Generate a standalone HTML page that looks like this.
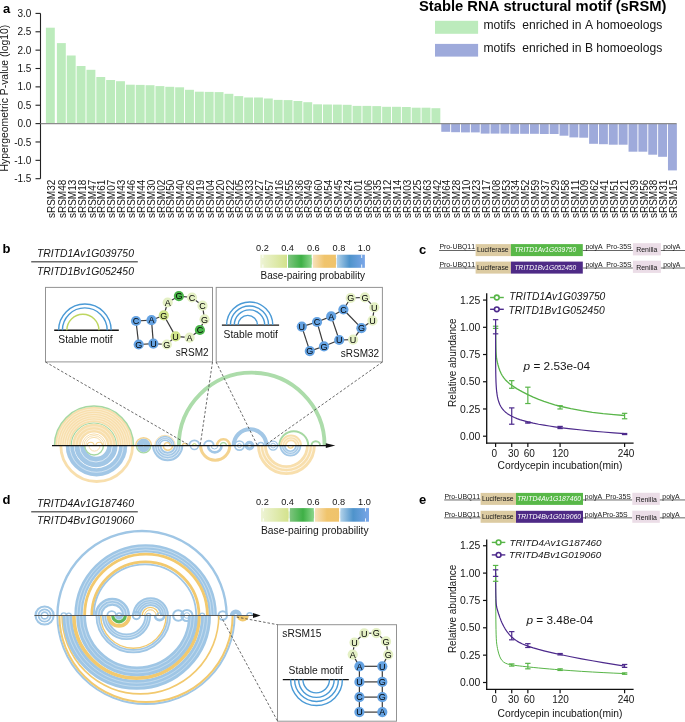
<!DOCTYPE html>
<html><head><meta charset="utf-8"><title>sRSM figure</title>
<style>
html,body{margin:0;padding:0;background:#fff;}
body{width:685px;height:722px;overflow:hidden;}
svg{display:block;will-change:transform;font-family:"Liberation Sans", sans-serif;font-kerning:none;}
</style></head>
<body>
<svg width="685" height="722" viewBox="0 0 685 722">
<rect width="685" height="722" fill="#fff"/>
<text x="3.00" y="12.70" font-size="13" text-anchor="start" font-weight="bold" font-style="normal" fill="#000" >a</text>
<line x1="40.50" y1="13.40" x2="40.50" y2="178.70" stroke="#222" stroke-width="1.1" />
<line x1="35.50" y1="13.41" x2="40.50" y2="13.41" stroke="#222" stroke-width="1.1" />
<text x="31.40" y="17.01" font-size="10" text-anchor="end" font-weight="normal" font-style="normal" fill="#151515" >3.0</text>
<line x1="35.50" y1="31.78" x2="40.50" y2="31.78" stroke="#222" stroke-width="1.1" />
<text x="31.40" y="35.38" font-size="10" text-anchor="end" font-weight="normal" font-style="normal" fill="#151515" >2.5</text>
<line x1="35.50" y1="50.14" x2="40.50" y2="50.14" stroke="#222" stroke-width="1.1" />
<text x="31.40" y="53.74" font-size="10" text-anchor="end" font-weight="normal" font-style="normal" fill="#151515" >2.0</text>
<line x1="35.50" y1="68.50" x2="40.50" y2="68.50" stroke="#222" stroke-width="1.1" />
<text x="31.40" y="72.10" font-size="10" text-anchor="end" font-weight="normal" font-style="normal" fill="#151515" >1.5</text>
<line x1="35.50" y1="86.87" x2="40.50" y2="86.87" stroke="#222" stroke-width="1.1" />
<text x="31.40" y="90.47" font-size="10" text-anchor="end" font-weight="normal" font-style="normal" fill="#151515" >1.0</text>
<line x1="35.50" y1="105.23" x2="40.50" y2="105.23" stroke="#222" stroke-width="1.1" />
<text x="31.40" y="108.83" font-size="10" text-anchor="end" font-weight="normal" font-style="normal" fill="#151515" >0.5</text>
<line x1="35.50" y1="123.60" x2="40.50" y2="123.60" stroke="#222" stroke-width="1.1" />
<text x="31.40" y="127.20" font-size="10" text-anchor="end" font-weight="normal" font-style="normal" fill="#151515" >0.0</text>
<line x1="35.50" y1="141.97" x2="40.50" y2="141.97" stroke="#222" stroke-width="1.1" />
<text x="31.40" y="145.56" font-size="10" text-anchor="end" font-weight="normal" font-style="normal" fill="#151515" >-0.5</text>
<line x1="35.50" y1="160.33" x2="40.50" y2="160.33" stroke="#222" stroke-width="1.1" />
<text x="31.40" y="163.93" font-size="10" text-anchor="end" font-weight="normal" font-style="normal" fill="#151515" >-1.0</text>
<line x1="35.50" y1="178.69" x2="40.50" y2="178.69" stroke="#222" stroke-width="1.1" />
<text x="31.40" y="182.29" font-size="10" text-anchor="end" font-weight="normal" font-style="normal" fill="#151515" >-1.5</text>
<text transform="translate(7.5,98.1) rotate(-90)" font-size="10.4" text-anchor="middle" fill="#151515">Hypergeometric P-value (log10)</text>
<rect x="45.90" y="27.70" width="8.90" height="95.90" fill="#bcebbc" />
<text transform="translate(55.05,179.7) rotate(-90)" font-size="10" text-anchor="end" fill="#151515">sRSM32</text>
<rect x="56.90" y="43.10" width="8.90" height="80.50" fill="#bcebbc" />
<text transform="translate(66.05,179.7) rotate(-90)" font-size="10" text-anchor="end" fill="#151515">sRSM48</text>
<rect x="66.76" y="55.50" width="8.90" height="68.10" fill="#bcebbc" />
<text transform="translate(75.91,179.7) rotate(-90)" font-size="10" text-anchor="end" fill="#151515">sRSM13</text>
<rect x="76.61" y="66.00" width="8.90" height="57.60" fill="#bcebbc" />
<text transform="translate(85.76,179.7) rotate(-90)" font-size="10" text-anchor="end" fill="#151515">sRSM18</text>
<rect x="86.47" y="69.80" width="8.90" height="53.80" fill="#bcebbc" />
<text transform="translate(95.62,179.7) rotate(-90)" font-size="10" text-anchor="end" fill="#151515">sRSM47</text>
<rect x="96.32" y="77.00" width="8.90" height="46.60" fill="#bcebbc" />
<text transform="translate(105.47,179.7) rotate(-90)" font-size="10" text-anchor="end" fill="#151515">sRSM61</text>
<rect x="106.18" y="80.00" width="8.90" height="43.60" fill="#bcebbc" />
<text transform="translate(115.33,179.7) rotate(-90)" font-size="10" text-anchor="end" fill="#151515">sRSM07</text>
<rect x="116.04" y="81.20" width="8.90" height="42.40" fill="#bcebbc" />
<text transform="translate(125.19,179.7) rotate(-90)" font-size="10" text-anchor="end" fill="#151515">sRSM43</text>
<rect x="125.89" y="84.70" width="8.90" height="38.90" fill="#bcebbc" />
<text transform="translate(135.04,179.7) rotate(-90)" font-size="10" text-anchor="end" fill="#151515">sRSM46</text>
<rect x="135.75" y="84.90" width="8.90" height="38.70" fill="#bcebbc" />
<text transform="translate(144.90,179.7) rotate(-90)" font-size="10" text-anchor="end" fill="#151515">sRSM44</text>
<rect x="145.60" y="85.20" width="8.90" height="38.40" fill="#bcebbc" />
<text transform="translate(154.75,179.7) rotate(-90)" font-size="10" text-anchor="end" fill="#151515">sRSM30</text>
<rect x="155.46" y="86.10" width="8.90" height="37.50" fill="#bcebbc" />
<text transform="translate(164.61,179.7) rotate(-90)" font-size="10" text-anchor="end" fill="#151515">sRSM02</text>
<rect x="165.32" y="86.80" width="8.90" height="36.80" fill="#bcebbc" />
<text transform="translate(174.47,179.7) rotate(-90)" font-size="10" text-anchor="end" fill="#151515">sRSM50</text>
<rect x="175.17" y="87.30" width="8.90" height="36.30" fill="#bcebbc" />
<text transform="translate(184.32,179.7) rotate(-90)" font-size="10" text-anchor="end" fill="#151515">sRSM40</text>
<rect x="185.03" y="89.80" width="8.90" height="33.80" fill="#bcebbc" />
<text transform="translate(194.18,179.7) rotate(-90)" font-size="10" text-anchor="end" fill="#151515">sRSM26</text>
<rect x="194.88" y="91.70" width="8.90" height="31.90" fill="#bcebbc" />
<text transform="translate(204.03,179.7) rotate(-90)" font-size="10" text-anchor="end" fill="#151515">sRSM19</text>
<rect x="204.74" y="91.90" width="8.90" height="31.70" fill="#bcebbc" />
<text transform="translate(213.89,179.7) rotate(-90)" font-size="10" text-anchor="end" fill="#151515">sRSM04</text>
<rect x="214.60" y="92.10" width="8.90" height="31.50" fill="#bcebbc" />
<text transform="translate(223.75,179.7) rotate(-90)" font-size="10" text-anchor="end" fill="#151515">sRSM20</text>
<rect x="224.45" y="93.80" width="8.90" height="29.80" fill="#bcebbc" />
<text transform="translate(233.60,179.7) rotate(-90)" font-size="10" text-anchor="end" fill="#151515">sRSM22</text>
<rect x="234.31" y="96.10" width="8.90" height="27.50" fill="#bcebbc" />
<text transform="translate(243.46,179.7) rotate(-90)" font-size="10" text-anchor="end" fill="#151515">sRSM05</text>
<rect x="244.16" y="97.50" width="8.90" height="26.10" fill="#bcebbc" />
<text transform="translate(253.31,179.7) rotate(-90)" font-size="10" text-anchor="end" fill="#151515">sRSM33</text>
<rect x="254.02" y="97.50" width="8.90" height="26.10" fill="#bcebbc" />
<text transform="translate(263.17,179.7) rotate(-90)" font-size="10" text-anchor="end" fill="#151515">sRSM27</text>
<rect x="263.88" y="98.50" width="8.90" height="25.10" fill="#bcebbc" />
<text transform="translate(273.03,179.7) rotate(-90)" font-size="10" text-anchor="end" fill="#151515">sRSM57</text>
<rect x="273.73" y="99.90" width="8.90" height="23.70" fill="#bcebbc" />
<text transform="translate(282.88,179.7) rotate(-90)" font-size="10" text-anchor="end" fill="#151515">sRSM16</text>
<rect x="283.59" y="100.10" width="8.90" height="23.50" fill="#bcebbc" />
<text transform="translate(292.74,179.7) rotate(-90)" font-size="10" text-anchor="end" fill="#151515">sRSM55</text>
<rect x="293.44" y="101.00" width="8.90" height="22.60" fill="#bcebbc" />
<text transform="translate(302.59,179.7) rotate(-90)" font-size="10" text-anchor="end" fill="#151515">sRSM36</text>
<rect x="303.30" y="102.20" width="8.90" height="21.40" fill="#bcebbc" />
<text transform="translate(312.45,179.7) rotate(-90)" font-size="10" text-anchor="end" fill="#151515">sRSM49</text>
<rect x="313.16" y="104.30" width="8.90" height="19.30" fill="#bcebbc" />
<text transform="translate(322.31,179.7) rotate(-90)" font-size="10" text-anchor="end" fill="#151515">sRSM60</text>
<rect x="323.01" y="104.50" width="8.90" height="19.10" fill="#bcebbc" />
<text transform="translate(332.16,179.7) rotate(-90)" font-size="10" text-anchor="end" fill="#151515">sRSM54</text>
<rect x="332.87" y="104.60" width="8.90" height="19.00" fill="#bcebbc" />
<text transform="translate(342.02,179.7) rotate(-90)" font-size="10" text-anchor="end" fill="#151515">sRSM45</text>
<rect x="342.72" y="104.80" width="8.90" height="18.80" fill="#bcebbc" />
<text transform="translate(351.87,179.7) rotate(-90)" font-size="10" text-anchor="end" fill="#151515">sRSM24</text>
<rect x="352.58" y="105.90" width="8.90" height="17.70" fill="#bcebbc" />
<text transform="translate(361.73,179.7) rotate(-90)" font-size="10" text-anchor="end" fill="#151515">sRSM01</text>
<rect x="362.44" y="105.90" width="8.90" height="17.70" fill="#bcebbc" />
<text transform="translate(371.59,179.7) rotate(-90)" font-size="10" text-anchor="end" fill="#151515">sRSM06</text>
<rect x="372.29" y="106.10" width="8.90" height="17.50" fill="#bcebbc" />
<text transform="translate(381.44,179.7) rotate(-90)" font-size="10" text-anchor="end" fill="#151515">sRSM35</text>
<rect x="382.15" y="106.80" width="8.90" height="16.80" fill="#bcebbc" />
<text transform="translate(391.30,179.7) rotate(-90)" font-size="10" text-anchor="end" fill="#151515">sRSM12</text>
<rect x="392.00" y="106.80" width="8.90" height="16.80" fill="#bcebbc" />
<text transform="translate(401.15,179.7) rotate(-90)" font-size="10" text-anchor="end" fill="#151515">sRSM14</text>
<rect x="401.86" y="107.00" width="8.90" height="16.60" fill="#bcebbc" />
<text transform="translate(411.01,179.7) rotate(-90)" font-size="10" text-anchor="end" fill="#151515">sRSM03</text>
<rect x="411.72" y="107.70" width="8.90" height="15.90" fill="#bcebbc" />
<text transform="translate(420.87,179.7) rotate(-90)" font-size="10" text-anchor="end" fill="#151515">sRSM25</text>
<rect x="421.57" y="107.70" width="8.90" height="15.90" fill="#bcebbc" />
<text transform="translate(430.72,179.7) rotate(-90)" font-size="10" text-anchor="end" fill="#151515">sRSM63</text>
<rect x="431.43" y="108.20" width="8.90" height="15.40" fill="#bcebbc" />
<text transform="translate(440.58,179.7) rotate(-90)" font-size="10" text-anchor="end" fill="#151515">sRSM42</text>
<rect x="441.28" y="123.60" width="8.90" height="8.20" fill="#9eaadb" />
<text transform="translate(450.43,179.7) rotate(-90)" font-size="10" text-anchor="end" fill="#151515">sRSM64</text>
<rect x="451.14" y="123.60" width="8.90" height="8.60" fill="#9eaadb" />
<text transform="translate(460.29,179.7) rotate(-90)" font-size="10" text-anchor="end" fill="#151515">sRSM28</text>
<rect x="461.00" y="123.60" width="8.90" height="8.80" fill="#9eaadb" />
<text transform="translate(470.15,179.7) rotate(-90)" font-size="10" text-anchor="end" fill="#151515">sRSM10</text>
<rect x="470.85" y="123.60" width="8.90" height="8.80" fill="#9eaadb" />
<text transform="translate(480.00,179.7) rotate(-90)" font-size="10" text-anchor="end" fill="#151515">sRSM23</text>
<rect x="480.71" y="123.60" width="8.90" height="10.00" fill="#9eaadb" />
<text transform="translate(489.86,179.7) rotate(-90)" font-size="10" text-anchor="end" fill="#151515">sRSM17</text>
<rect x="490.56" y="123.60" width="8.90" height="10.00" fill="#9eaadb" />
<text transform="translate(499.71,179.7) rotate(-90)" font-size="10" text-anchor="end" fill="#151515">sRSM08</text>
<rect x="500.42" y="123.60" width="8.90" height="10.00" fill="#9eaadb" />
<text transform="translate(509.57,179.7) rotate(-90)" font-size="10" text-anchor="end" fill="#151515">sRSM53</text>
<rect x="510.28" y="123.60" width="8.90" height="10.20" fill="#9eaadb" />
<text transform="translate(519.43,179.7) rotate(-90)" font-size="10" text-anchor="end" fill="#151515">sRSM34</text>
<rect x="520.13" y="123.60" width="8.90" height="10.20" fill="#9eaadb" />
<text transform="translate(529.28,179.7) rotate(-90)" font-size="10" text-anchor="end" fill="#151515">sRSM52</text>
<rect x="529.99" y="123.60" width="8.90" height="10.20" fill="#9eaadb" />
<text transform="translate(539.14,179.7) rotate(-90)" font-size="10" text-anchor="end" fill="#151515">sRSM59</text>
<rect x="539.84" y="123.60" width="8.90" height="10.40" fill="#9eaadb" />
<text transform="translate(548.99,179.7) rotate(-90)" font-size="10" text-anchor="end" fill="#151515">sRSM37</text>
<rect x="549.70" y="123.60" width="8.90" height="10.40" fill="#9eaadb" />
<text transform="translate(558.85,179.7) rotate(-90)" font-size="10" text-anchor="end" fill="#151515">sRSM29</text>
<rect x="559.56" y="123.60" width="8.90" height="12.10" fill="#9eaadb" />
<text transform="translate(568.71,179.7) rotate(-90)" font-size="10" text-anchor="end" fill="#151515">sRSM58</text>
<rect x="569.41" y="123.60" width="8.90" height="13.80" fill="#9eaadb" />
<text transform="translate(578.56,179.7) rotate(-90)" font-size="10" text-anchor="end" fill="#151515">sRSM11</text>
<rect x="579.27" y="123.60" width="8.90" height="14.10" fill="#9eaadb" />
<text transform="translate(588.42,179.7) rotate(-90)" font-size="10" text-anchor="end" fill="#151515">sRSM09</text>
<rect x="589.12" y="123.60" width="8.90" height="20.20" fill="#9eaadb" />
<text transform="translate(598.27,179.7) rotate(-90)" font-size="10" text-anchor="end" fill="#151515">sRSM62</text>
<rect x="598.98" y="123.60" width="8.90" height="20.60" fill="#9eaadb" />
<text transform="translate(608.13,179.7) rotate(-90)" font-size="10" text-anchor="end" fill="#151515">sRSM41</text>
<rect x="608.84" y="123.60" width="8.90" height="21.10" fill="#9eaadb" />
<text transform="translate(617.99,179.7) rotate(-90)" font-size="10" text-anchor="end" fill="#151515">sRSM51</text>
<rect x="618.69" y="123.60" width="8.90" height="21.10" fill="#9eaadb" />
<text transform="translate(627.84,179.7) rotate(-90)" font-size="10" text-anchor="end" fill="#151515">sRSM21</text>
<rect x="628.55" y="123.60" width="8.90" height="28.10" fill="#9eaadb" />
<text transform="translate(637.70,179.7) rotate(-90)" font-size="10" text-anchor="end" fill="#151515">sRSM39</text>
<rect x="638.40" y="123.60" width="8.90" height="28.10" fill="#9eaadb" />
<text transform="translate(647.55,179.7) rotate(-90)" font-size="10" text-anchor="end" fill="#151515">sRSM56</text>
<rect x="648.26" y="123.60" width="8.90" height="31.10" fill="#9eaadb" />
<text transform="translate(657.41,179.7) rotate(-90)" font-size="10" text-anchor="end" fill="#151515">sRSM38</text>
<rect x="658.12" y="123.60" width="8.90" height="33.20" fill="#9eaadb" />
<text transform="translate(667.27,179.7) rotate(-90)" font-size="10" text-anchor="end" fill="#151515">sRSM31</text>
<rect x="667.97" y="123.60" width="8.90" height="46.80" fill="#9eaadb" />
<text transform="translate(677.12,179.7) rotate(-90)" font-size="10" text-anchor="end" fill="#151515">sRSM15</text>
<line x1="40.50" y1="123.60" x2="676.60" y2="123.60" stroke="#8c8c8c" stroke-width="1.1" />
<text x="419.00" y="11.20" font-size="14.75" text-anchor="start" font-weight="bold" font-style="normal" fill="#000" >Stable RNA structural motif (sRSM)</text>
<rect x="435.00" y="20.80" width="43.10" height="13.00" fill="#bcebbc" />
<rect x="435.00" y="43.90" width="43.10" height="12.70" fill="#9eaadb" />
<text x="483.40" y="29.00" font-size="12.1" text-anchor="start" font-weight="normal" font-style="normal" fill="#151515" xml:space="preserve">motifs  enriched in A homoeologs</text>
<text x="483.40" y="52.20" font-size="12.1" text-anchor="start" font-weight="normal" font-style="normal" fill="#151515" xml:space="preserve">motifs  enriched in B homoeologs</text>
<defs>
<linearGradient id="gy" x1="0" x2="1" y1="0" y2="0"><stop offset="0" stop-color="#eef4d6"/><stop offset="1" stop-color="#d3e28c"/></linearGradient>
<linearGradient id="gg" x1="0" x2="1" y1="0" y2="0"><stop offset="0" stop-color="#7fc57f"/><stop offset="0.55" stop-color="#3eb046"/><stop offset="1" stop-color="#8cd68c"/></linearGradient>
<linearGradient id="go" x1="0" x2="1" y1="0" y2="0"><stop offset="0" stop-color="#f7e2bd"/><stop offset="0.5" stop-color="#f0c46c"/><stop offset="1" stop-color="#efc36c"/></linearGradient>
<linearGradient id="gb" x1="0" x2="1" y1="0" y2="0"><stop offset="0" stop-color="#b3d3ea"/><stop offset="0.45" stop-color="#4e93cb"/><stop offset="1" stop-color="#7aa6e8"/></linearGradient>
</defs>
<text x="2.60" y="253.30" font-size="13" text-anchor="start" font-weight="bold" font-style="normal" fill="#000" >b</text>
<text x="36.90" y="257.00" font-size="10.4" text-anchor="start" font-weight="normal" font-style="italic" fill="#151515" >TRITD1Av1G039750</text>
<line x1="31.20" y1="261.80" x2="137.80" y2="261.80" stroke="#6b6b6b" stroke-width="1.4" />
<text x="36.90" y="274.80" font-size="10.4" text-anchor="start" font-weight="normal" font-style="italic" fill="#151515" >TRITD1Bv1G052450</text>
<rect x="260.30" y="254.70" width="26.70" height="13.10" fill="url(#gy)" />
<rect x="288.00" y="254.70" width="23.90" height="13.10" fill="url(#gg)" />
<rect x="312.60" y="254.70" width="23.50" height="13.10" fill="url(#go)" />
<rect x="336.70" y="254.70" width="28.20" height="13.10" fill="url(#gb)" />
<line x1="262.90" y1="254.70" x2="262.90" y2="258.00" stroke="#fff" stroke-width="0.9" />
<line x1="262.90" y1="264.50" x2="262.90" y2="267.80" stroke="#fff" stroke-width="0.9" />
<line x1="287.50" y1="254.70" x2="287.50" y2="258.00" stroke="#fff" stroke-width="0.9" />
<line x1="287.50" y1="264.50" x2="287.50" y2="267.80" stroke="#fff" stroke-width="0.9" />
<line x1="312.20" y1="254.70" x2="312.20" y2="258.00" stroke="#fff" stroke-width="0.9" />
<line x1="312.20" y1="264.50" x2="312.20" y2="267.80" stroke="#fff" stroke-width="0.9" />
<line x1="336.40" y1="254.70" x2="336.40" y2="258.00" stroke="#fff" stroke-width="0.9" />
<line x1="336.40" y1="264.50" x2="336.40" y2="267.80" stroke="#fff" stroke-width="0.9" />
<line x1="361.70" y1="254.70" x2="361.70" y2="258.00" stroke="#fff" stroke-width="0.9" />
<line x1="361.70" y1="264.50" x2="361.70" y2="267.80" stroke="#fff" stroke-width="0.9" />
<text x="262.50" y="250.70" font-size="9.2" text-anchor="middle" font-weight="normal" font-style="normal" fill="#151515" >0.2</text>
<text x="287.60" y="250.70" font-size="9.2" text-anchor="middle" font-weight="normal" font-style="normal" fill="#151515" >0.4</text>
<text x="313.30" y="250.70" font-size="9.2" text-anchor="middle" font-weight="normal" font-style="normal" fill="#151515" >0.6</text>
<text x="339.00" y="250.70" font-size="9.2" text-anchor="middle" font-weight="normal" font-style="normal" fill="#151515" >0.8</text>
<text x="364.20" y="250.70" font-size="9.2" text-anchor="middle" font-weight="normal" font-style="normal" fill="#151515" >1.0</text>
<text x="260.60" y="278.90" font-size="10" text-anchor="start" font-weight="normal" font-style="normal" fill="#151515" >Base-pairing probability</text>
<rect x="45.5" y="287.4" width="167.0" height="74.5" fill="none" stroke="#939393" stroke-width="1"/>
<rect x="216.2" y="287.4" width="166.2" height="74.5" fill="none" stroke="#939393" stroke-width="1"/>
<line x1="54.20" y1="330.30" x2="118.80" y2="330.30" stroke="#111" stroke-width="1.4" />
<path d="M58.60,330.30 A26.30,26.30 0 0 1 111.20,330.30" fill="none" stroke="#4a9ad6" stroke-width="1.4" />
<path d="M62.40,330.30 A22.40,22.40 0 0 1 107.20,330.30" fill="none" stroke="#4a9ad6" stroke-width="1.4" />
<path d="M66.80,330.30 A16.10,16.10 0 0 1 99.00,330.30" fill="none" stroke="#bed660" stroke-width="1.4" />
<text x="58.30" y="343.30" font-size="10.3" text-anchor="start" font-weight="normal" font-style="normal" fill="#151515" >Stable motif</text>
<line x1="136.00" y1="321.00" x2="151.50" y2="320.20" stroke="#3a3a3a" stroke-width="1.2" />
<line x1="151.50" y1="320.20" x2="163.80" y2="315.30" stroke="#3a3a3a" stroke-width="1.2" />
<line x1="163.80" y1="315.30" x2="167.70" y2="302.50" stroke="#3a3a3a" stroke-width="1.2" />
<line x1="167.70" y1="302.50" x2="178.90" y2="296.10" stroke="#3a3a3a" stroke-width="1.2" />
<line x1="178.90" y1="296.10" x2="192.00" y2="297.50" stroke="#3a3a3a" stroke-width="1.2" />
<line x1="192.00" y1="297.50" x2="202.50" y2="305.70" stroke="#3a3a3a" stroke-width="1.2" />
<line x1="202.50" y1="305.70" x2="204.50" y2="319.30" stroke="#3a3a3a" stroke-width="1.2" />
<line x1="204.50" y1="319.30" x2="199.90" y2="330.00" stroke="#3a3a3a" stroke-width="1.2" />
<line x1="199.90" y1="330.00" x2="189.60" y2="337.70" stroke="#3a3a3a" stroke-width="1.2" />
<line x1="189.60" y1="337.70" x2="175.60" y2="336.40" stroke="#3a3a3a" stroke-width="1.2" />
<line x1="175.60" y1="336.40" x2="166.80" y2="344.50" stroke="#3a3a3a" stroke-width="1.2" />
<line x1="166.80" y1="344.50" x2="153.40" y2="343.60" stroke="#3a3a3a" stroke-width="1.2" />
<line x1="153.40" y1="343.60" x2="138.70" y2="344.50" stroke="#3a3a3a" stroke-width="1.2" />
<line x1="136.00" y1="321.00" x2="138.70" y2="344.50" stroke="#3a3a3a" stroke-width="1.2" />
<line x1="151.50" y1="320.20" x2="153.40" y2="343.60" stroke="#3a3a3a" stroke-width="1.2" />
<line x1="163.80" y1="315.30" x2="175.60" y2="336.40" stroke="#3a3a3a" stroke-width="1.2" />
<circle cx="136.00" cy="321.00" r="5.10" fill="#64a2e2" />
<text x="136.00" y="324.25" font-size="9.0" text-anchor="middle" font-weight="normal" font-style="normal" fill="#000" >C</text>
<circle cx="151.50" cy="320.20" r="5.10" fill="#64a2e2" />
<text x="151.50" y="323.45" font-size="9.0" text-anchor="middle" font-weight="normal" font-style="normal" fill="#000" >A</text>
<circle cx="163.80" cy="315.30" r="5.10" fill="#cfe38a" />
<text x="163.80" y="318.55" font-size="9.0" text-anchor="middle" font-weight="normal" font-style="normal" fill="#000" >G</text>
<circle cx="167.70" cy="302.50" r="5.10" fill="#e4f0c4" />
<text x="167.70" y="305.75" font-size="9.0" text-anchor="middle" font-weight="normal" font-style="normal" fill="#000" >A</text>
<circle cx="178.90" cy="296.10" r="5.10" fill="#49b349" />
<text x="178.90" y="299.35" font-size="9.0" text-anchor="middle" font-weight="normal" font-style="normal" fill="#000" >G</text>
<circle cx="192.00" cy="297.50" r="5.10" fill="#e4f0c4" />
<text x="192.00" y="300.75" font-size="9.0" text-anchor="middle" font-weight="normal" font-style="normal" fill="#000" >C</text>
<circle cx="202.50" cy="305.70" r="5.10" fill="#e4f0c4" />
<text x="202.50" y="308.95" font-size="9.0" text-anchor="middle" font-weight="normal" font-style="normal" fill="#000" >C</text>
<circle cx="204.50" cy="319.30" r="5.10" fill="#e4f0c4" />
<text x="204.50" y="322.55" font-size="9.0" text-anchor="middle" font-weight="normal" font-style="normal" fill="#000" >G</text>
<circle cx="199.90" cy="330.00" r="5.10" fill="#49b349" />
<text x="199.90" y="333.25" font-size="9.0" text-anchor="middle" font-weight="normal" font-style="normal" fill="#000" >C</text>
<circle cx="189.60" cy="337.70" r="5.10" fill="#e4f0c4" />
<text x="189.60" y="340.95" font-size="9.0" text-anchor="middle" font-weight="normal" font-style="normal" fill="#000" >A</text>
<circle cx="175.60" cy="336.40" r="5.10" fill="#cfe38a" />
<text x="175.60" y="339.65" font-size="9.0" text-anchor="middle" font-weight="normal" font-style="normal" fill="#000" >U</text>
<circle cx="166.80" cy="344.50" r="5.10" fill="#e4f0c4" />
<text x="166.80" y="347.75" font-size="9.0" text-anchor="middle" font-weight="normal" font-style="normal" fill="#000" >G</text>
<circle cx="153.40" cy="343.60" r="5.10" fill="#64a2e2" />
<text x="153.40" y="346.85" font-size="9.0" text-anchor="middle" font-weight="normal" font-style="normal" fill="#000" >U</text>
<circle cx="138.70" cy="344.50" r="5.10" fill="#64a2e2" />
<text x="138.70" y="347.75" font-size="9.0" text-anchor="middle" font-weight="normal" font-style="normal" fill="#000" >G</text>
<text x="208.60" y="356.30" font-size="10" text-anchor="end" font-weight="normal" font-style="normal" fill="#151515" >sRSM2</text>
<line x1="221.90" y1="325.10" x2="279.10" y2="325.10" stroke="#111" stroke-width="1.4" />
<path d="M226.60,325.10 A23.10,23.10 0 0 1 272.80,325.10" fill="none" stroke="#4a9ad6" stroke-width="1.4" />
<path d="M230.40,325.10 A19.10,19.10 0 0 1 268.60,325.10" fill="none" stroke="#4a9ad6" stroke-width="1.4" />
<path d="M234.30,325.10 A15.20,15.20 0 0 1 264.70,325.10" fill="none" stroke="#4a9ad6" stroke-width="1.4" />
<path d="M238.10,325.10 A9.70,9.70 0 0 1 257.50,325.10" fill="none" stroke="#4a9ad6" stroke-width="1.4" />
<text x="223.60" y="337.80" font-size="10.3" text-anchor="start" font-weight="normal" font-style="normal" fill="#151515" >Stable motif</text>
<line x1="301.80" y1="326.60" x2="317.00" y2="322.00" stroke="#3a3a3a" stroke-width="1.2" />
<line x1="317.00" y1="322.00" x2="331.20" y2="316.40" stroke="#3a3a3a" stroke-width="1.2" />
<line x1="331.20" y1="316.40" x2="343.40" y2="309.50" stroke="#3a3a3a" stroke-width="1.2" />
<line x1="343.40" y1="309.50" x2="350.70" y2="298.00" stroke="#3a3a3a" stroke-width="1.2" />
<line x1="350.70" y1="298.00" x2="364.90" y2="297.40" stroke="#3a3a3a" stroke-width="1.2" />
<line x1="364.90" y1="297.40" x2="374.30" y2="307.40" stroke="#3a3a3a" stroke-width="1.2" />
<line x1="374.30" y1="307.40" x2="372.50" y2="320.60" stroke="#3a3a3a" stroke-width="1.2" />
<line x1="372.50" y1="320.60" x2="361.40" y2="328.20" stroke="#3a3a3a" stroke-width="1.2" />
<line x1="361.40" y1="328.20" x2="353.10" y2="339.60" stroke="#3a3a3a" stroke-width="1.2" />
<line x1="353.10" y1="339.60" x2="339.20" y2="340.00" stroke="#3a3a3a" stroke-width="1.2" />
<line x1="339.20" y1="340.00" x2="324.00" y2="346.30" stroke="#3a3a3a" stroke-width="1.2" />
<line x1="324.00" y1="346.30" x2="309.80" y2="351.10" stroke="#3a3a3a" stroke-width="1.2" />
<line x1="301.80" y1="326.60" x2="309.80" y2="351.10" stroke="#3a3a3a" stroke-width="1.2" />
<line x1="317.00" y1="322.00" x2="324.00" y2="346.30" stroke="#3a3a3a" stroke-width="1.2" />
<line x1="331.20" y1="316.40" x2="339.20" y2="340.00" stroke="#3a3a3a" stroke-width="1.2" />
<line x1="343.40" y1="309.50" x2="361.40" y2="328.20" stroke="#3a3a3a" stroke-width="1.2" />
<circle cx="301.80" cy="326.60" r="5.10" fill="#64a2e2" />
<text x="301.80" y="329.85" font-size="9.0" text-anchor="middle" font-weight="normal" font-style="normal" fill="#000" >U</text>
<circle cx="317.00" cy="322.00" r="5.10" fill="#64a2e2" />
<text x="317.00" y="325.25" font-size="9.0" text-anchor="middle" font-weight="normal" font-style="normal" fill="#000" >C</text>
<circle cx="331.20" cy="316.40" r="5.10" fill="#64a2e2" />
<text x="331.20" y="319.65" font-size="9.0" text-anchor="middle" font-weight="normal" font-style="normal" fill="#000" >A</text>
<circle cx="343.40" cy="309.50" r="5.10" fill="#64a2e2" />
<text x="343.40" y="312.75" font-size="9.0" text-anchor="middle" font-weight="normal" font-style="normal" fill="#000" >C</text>
<circle cx="350.70" cy="298.00" r="5.10" fill="#e4f0c4" />
<text x="350.70" y="301.25" font-size="9.0" text-anchor="middle" font-weight="normal" font-style="normal" fill="#000" >G</text>
<circle cx="364.90" cy="297.40" r="5.10" fill="#e4f0c4" />
<text x="364.90" y="300.65" font-size="9.0" text-anchor="middle" font-weight="normal" font-style="normal" fill="#000" >G</text>
<circle cx="374.30" cy="307.40" r="5.10" fill="#e4f0c4" />
<text x="374.30" y="310.65" font-size="9.0" text-anchor="middle" font-weight="normal" font-style="normal" fill="#000" >U</text>
<circle cx="372.50" cy="320.60" r="5.10" fill="#e4f0c4" />
<text x="372.50" y="323.85" font-size="9.0" text-anchor="middle" font-weight="normal" font-style="normal" fill="#000" >U</text>
<circle cx="361.40" cy="328.20" r="5.10" fill="#64a2e2" />
<text x="361.40" y="331.45" font-size="9.0" text-anchor="middle" font-weight="normal" font-style="normal" fill="#000" >G</text>
<circle cx="353.10" cy="339.60" r="5.10" fill="#e4f0c4" />
<text x="353.10" y="342.85" font-size="9.0" text-anchor="middle" font-weight="normal" font-style="normal" fill="#000" >U</text>
<circle cx="339.20" cy="340.00" r="5.10" fill="#64a2e2" />
<text x="339.20" y="343.25" font-size="9.0" text-anchor="middle" font-weight="normal" font-style="normal" fill="#000" >U</text>
<circle cx="324.00" cy="346.30" r="5.10" fill="#64a2e2" />
<text x="324.00" y="349.55" font-size="9.0" text-anchor="middle" font-weight="normal" font-style="normal" fill="#000" >G</text>
<circle cx="309.80" cy="351.10" r="5.10" fill="#64a2e2" />
<text x="309.80" y="354.35" font-size="9.0" text-anchor="middle" font-weight="normal" font-style="normal" fill="#000" >G</text>
<text x="379.20" y="356.70" font-size="10" text-anchor="end" font-weight="normal" font-style="normal" fill="#151515" >sRSM32</text>
<path d="M62.85,445.60 A31.15,31.15 0 0 1 125.15,445.60" fill="none" stroke="#f8dfad" stroke-width="15.5" />
<path d="M68.39,445.60 A25.61,25.61 0 0 1 119.61,445.60" fill="none" stroke="#fff" stroke-width="0.4" />
<path d="M66.17,445.60 A27.83,27.83 0 0 1 121.83,445.60" fill="none" stroke="#fff" stroke-width="0.4" />
<path d="M63.96,445.60 A30.04,30.04 0 0 1 124.04,445.60" fill="none" stroke="#fff" stroke-width="0.4" />
<path d="M61.74,445.60 A32.26,32.26 0 0 1 126.26,445.60" fill="none" stroke="#fff" stroke-width="0.4" />
<path d="M59.53,445.60 A34.47,34.47 0 0 1 128.47,445.60" fill="none" stroke="#fff" stroke-width="0.4" />
<path d="M57.31,445.60 A36.69,36.69 0 0 1 130.69,445.60" fill="none" stroke="#fff" stroke-width="0.4" />
<path d="M54.50,445.60 A39.50,39.50 0 0 1 133.50,445.60" fill="none" stroke="#a6d8a2" stroke-width="1.5" />
<path d="M71.20,445.60 A22.60,22.60 0 0 1 116.40,445.60" fill="none" stroke="#a6d8a2" stroke-width="1.1" />
<path d="M76.60,445.60 A17.40,17.40 0 0 1 111.40,445.60" fill="none" stroke="#f8dfad" stroke-width="8.8" />
<path d="M78.07,445.60 A15.93,15.93 0 0 1 109.93,445.60" fill="none" stroke="#fff" stroke-width="0.4" />
<path d="M75.13,445.60 A18.87,18.87 0 0 1 112.87,445.60" fill="none" stroke="#fff" stroke-width="0.4" />
<path d="M85.80,445.60 A8.20,8.20 0 0 1 102.20,445.60" fill="none" stroke="#f8dfad" stroke-width="1.0" />
<path d="M84.00,445.60 A10.00,10.00 0 0 1 104.00,445.60" fill="none" stroke="#f8dfad" stroke-width="1.0" />
<path d="M82.30,445.60 A11.70,11.70 0 0 1 105.70,445.60" fill="none" stroke="#f8dfad" stroke-width="1.0" />
<path d="M87.30,445.60 A3.40,3.40 0 0 1 94.10,445.60" fill="none" stroke="#f4d38f" stroke-width="1.1" />
<path d="M95.90,445.60 A3.40,3.40 0 0 1 102.70,445.60" fill="none" stroke="#f4d38f" stroke-width="1.1" />
<path d="M60.80,445.60 A35.90,35.90 0 0 0 132.60,445.60" fill="none" stroke="#f8dfad" stroke-width="2.8" />
<path d="M69.80,445.60 A26.70,26.70 0 0 0 123.20,445.60" fill="none" stroke="#a2c7e6" stroke-width="8.2" />
<path d="M69.80,445.60 A26.70,26.70 0 0 0 123.20,445.60" fill="none" stroke="#fff" stroke-width="0.5" />
<path d="M79.60,445.60 A16.40,16.40 0 0 0 112.40,445.60" fill="none" stroke="#a2c7e6" stroke-width="10.400000000000002" />
<path d="M79.60,445.60 A16.40,16.40 0 0 0 112.40,445.60" fill="none" stroke="#fff" stroke-width="0.6" />
<path d="M84.70,445.60 A9.40,9.40 0 0 0 103.50,445.60" fill="none" stroke="#a6d8a2" stroke-width="1.4" />
<path d="M89.00,445.60 A5.50,5.50 0 0 0 100.00,445.60" fill="none" stroke="#f8dfad" stroke-width="1.0" />
<path d="M139.70,445.60 A3.90,3.90 0 0 1 147.50,445.60" fill="none" stroke="#a2c7e6" stroke-width="6.2" />
<path d="M135.70,445.60 A7.90,7.90 0 0 1 151.50,445.60" fill="none" stroke="#f4d38f" stroke-width="1.6" />
<path d="M139.90,445.60 A3.70,3.70 0 0 0 147.30,445.60" fill="none" stroke="#a2c7e6" stroke-width="5.8" />
<path d="M136.40,445.60 A7.20,7.20 0 0 0 150.80,445.60" fill="none" stroke="#a6d8a2" stroke-width="1.3" />
<path d="M157.80,445.60 A7.20,7.20 0 0 1 172.20,445.60" fill="none" stroke="#a2c7e6" stroke-width="5.200000000000001" />
<path d="M158.67,445.60 A6.33,6.33 0 0 1 171.33,445.60" fill="none" stroke="#fff" stroke-width="0.5" />
<path d="M156.93,445.60 A8.07,8.07 0 0 1 173.07,445.60" fill="none" stroke="#fff" stroke-width="0.5" />
<path d="M154.70,445.60 A10.30,10.30 0 0 1 175.30,445.60" fill="none" stroke="#f4d38f" stroke-width="0.7" />
<path d="M164.30,445.60 A3.00,3.00 0 0 1 170.30,445.60" fill="none" stroke="#f4d38f" stroke-width="1.4" />
<path d="M156.80,445.60 A10.90,10.90 0 0 0 178.60,445.60" fill="none" stroke="#a2c7e6" stroke-width="9.399999999999999" />
<path d="M159.15,445.60 A8.55,8.55 0 0 0 176.25,445.60" fill="none" stroke="#fff" stroke-width="0.6" />
<path d="M156.80,445.60 A10.90,10.90 0 0 0 178.60,445.60" fill="none" stroke="#fff" stroke-width="0.6" />
<path d="M154.45,445.60 A13.25,13.25 0 0 0 180.95,445.60" fill="none" stroke="#fff" stroke-width="0.6" />
<path d="M163.30,445.60 A4.60,4.60 0 0 0 172.50,445.60" fill="none" stroke="#f4d38f" stroke-width="1.6" />
<path d="M178.80,445.60 A72.90,72.90 0 0 1 324.60,445.60" fill="none" stroke="#acdcaa" stroke-width="3.8" />
<path d="M182.40,445.60 A2.30,2.30 0 0 1 187.00,445.60" fill="none" stroke="#f4d38f" stroke-width="1.2" />
<path d="M189.10,445.60 A5.30,5.30 0 0 1 199.70,445.60" fill="none" stroke="#a2c7e6" stroke-width="1.8" />
<path d="M192.40,445.60 A2.00,2.00 0 0 1 196.40,445.60" fill="none" stroke="#c9dc78" stroke-width="1.0" />
<path d="M190.40,445.60 A4.00,4.00 0 0 0 198.40,445.60" fill="none" stroke="#a2c7e6" stroke-width="1.5" />
<path d="M204.10,445.60 A4.80,4.80 0 0 1 213.70,445.60" fill="none" stroke="#a2c7e6" stroke-width="1.9" />
<path d="M200.60,445.60 A14.60,14.60 0 0 0 229.80,445.60" fill="none" stroke="#f4d38f" stroke-width="3.0" />
<path d="M208.00,445.60 A6.80,6.80 0 0 0 221.60,445.60" fill="none" stroke="#a2c7e6" stroke-width="2.6" />
<path d="M211.10,445.60 A3.40,3.40 0 0 0 217.90,445.60" fill="none" stroke="#a2c7e6" stroke-width="1.0" />
<path d="M217.00,445.60 A6.40,6.40 0 0 1 229.80,445.60" fill="none" stroke="#f4d38f" stroke-width="2.6" />
<path d="M220.40,445.60 A3.00,3.00 0 0 1 226.40,445.60" fill="none" stroke="#a6d8a2" stroke-width="1.1" />
<path d="M233.75,445.60 A16.35,16.35 0 0 1 266.45,445.60" fill="none" stroke="#a2c7e6" stroke-width="4.099999999999998" />
<path d="M234.80,445.60 A4.60,4.60 0 0 1 244.00,445.60" fill="none" stroke="#a2c7e6" stroke-width="1.7" />
<path d="M234.80,445.60 A4.60,4.60 0 0 0 244.00,445.60" fill="none" stroke="#a2c7e6" stroke-width="1.7" />
<path d="M237.40,445.60 A2.00,2.00 0 0 1 241.40,445.60" fill="none" stroke="#a2c7e6" stroke-width="1.0" />
<path d="M237.40,445.60 A2.00,2.00 0 0 0 241.40,445.60" fill="none" stroke="#a2c7e6" stroke-width="1.0" />
<path d="M246.25,445.60 A3.25,3.25 0 0 1 252.75,445.60" fill="none" stroke="#a2c7e6" stroke-width="3.3000000000000003" />
<path d="M246.25,445.60 A3.25,3.25 0 0 0 252.75,445.60" fill="none" stroke="#a2c7e6" stroke-width="3.3000000000000003" />
<path d="M257.80,445.60 A3.00,3.00 0 0 1 263.80,445.60" fill="none" stroke="#a2c7e6" stroke-width="1.5" />
<path d="M268.60,445.60 A4.50,4.50 0 0 1 277.60,445.60" fill="none" stroke="#a2c7e6" stroke-width="1.4" />
<path d="M268.60,445.60 A4.50,4.50 0 0 0 277.60,445.60" fill="none" stroke="#a2c7e6" stroke-width="1.4" />
<path d="M270.70,445.60 A2.40,2.40 0 0 1 275.50,445.60" fill="none" stroke="#a2c7e6" stroke-width="1.0" />
<path d="M270.70,445.60 A2.40,2.40 0 0 0 275.50,445.60" fill="none" stroke="#a2c7e6" stroke-width="1.0" />
<path d="M261.90,445.60 A24.50,24.50 0 0 0 310.90,445.60" fill="none" stroke="#f8dfad" stroke-width="9.799999999999997" />
<path d="M263.53,445.60 A22.87,22.87 0 0 0 309.27,445.60" fill="none" stroke="#fff" stroke-width="0.7" />
<path d="M260.27,445.60 A26.13,26.13 0 0 0 312.53,445.60" fill="none" stroke="#fff" stroke-width="0.7" />
<path d="M279.40,445.60 A14.40,14.40 0 0 1 308.20,445.60" fill="none" stroke="#a6d8a2" stroke-width="2.0" />
<path d="M283.30,445.60 A7.70,7.70 0 0 1 298.70,445.60" fill="none" stroke="#f8dfad" stroke-width="6.6" />
<path d="M284.40,445.60 A6.60,6.60 0 0 1 297.60,445.60" fill="none" stroke="#fff" stroke-width="0.6" />
<path d="M282.20,445.60 A8.80,8.80 0 0 1 299.80,445.60" fill="none" stroke="#fff" stroke-width="0.6" />
<path d="M282.55,445.60 A7.85,7.85 0 0 0 298.25,445.60" fill="none" stroke="#a2c7e6" stroke-width="6.1000000000000005" />
<path d="M283.57,445.60 A6.83,6.83 0 0 0 297.23,445.60" fill="none" stroke="#fff" stroke-width="0.6" />
<path d="M281.53,445.60 A8.87,8.87 0 0 0 299.27,445.60" fill="none" stroke="#fff" stroke-width="0.6" />
<path d="M288.00,445.60 A2.60,2.60 0 0 0 293.20,445.60" fill="none" stroke="#f4d38f" stroke-width="1.2" />
<path d="M311.50,445.60 A4.30,4.30 0 0 1 320.10,445.60" fill="none" stroke="#a6d8a2" stroke-width="2.0" />
<line x1="52.00" y1="445.60" x2="327.00" y2="445.60" stroke="#111" stroke-width="1.25" />
<polygon points="325.8,443.20 335.3,445.60 325.8,448.00" fill="#111"/>
<line x1="45.50" y1="362.00" x2="189.70" y2="445.40" stroke="#444" stroke-width="0.8" stroke-dasharray="2.6,1.9"/>
<line x1="212.50" y1="362.00" x2="200.20" y2="445.40" stroke="#444" stroke-width="0.8" stroke-dasharray="2.6,1.9"/>
<line x1="216.10" y1="362.00" x2="257.40" y2="445.50" stroke="#444" stroke-width="0.8" stroke-dasharray="2.6,1.9"/>
<line x1="382.40" y1="362.00" x2="264.60" y2="445.50" stroke="#444" stroke-width="0.8" stroke-dasharray="2.6,1.9"/>
<text x="419.00" y="253.70" font-size="13" text-anchor="start" font-weight="bold" font-style="normal" fill="#000" >c</text>
<text x="439.40" y="249.30" font-size="6.9" text-anchor="start" font-weight="normal" font-style="normal" fill="#151515" >Pro-UBQ11</text>
<line x1="439.10" y1="250.50" x2="475.60" y2="250.50" stroke="#555" stroke-width="0.9" />
<rect x="475.60" y="244.10" width="35.30" height="12.00" fill="#dccba2" />
<text x="476.90" y="252.00" font-size="6.9" text-anchor="start" font-weight="normal" font-style="normal" fill="#151515" >Luciferase</text>
<rect x="510.90" y="244.10" width="71.90" height="12.00" fill="#58b848" />
<text x="514.60" y="252.00" font-size="6.6" text-anchor="start" font-weight="normal" font-style="italic" fill="#fff" >TRITD1Av1G039750</text>
<line x1="582.80" y1="250.50" x2="632.90" y2="250.50" stroke="#555" stroke-width="0.9" />
<text x="585.40" y="249.30" font-size="6.9" text-anchor="start" font-weight="normal" font-style="normal" fill="#151515" >polyA</text>
<text x="606.30" y="249.30" font-size="6.9" text-anchor="start" font-weight="normal" font-style="normal" fill="#151515" >Pro-35S</text>
<rect x="632.90" y="243.20" width="28.00" height="12.20" fill="#ebdde7" />
<text x="636.30" y="252.30" font-size="6.9" text-anchor="start" font-weight="normal" font-style="normal" fill="#151515" >Renilla</text>
<line x1="660.90" y1="250.50" x2="685.00" y2="250.50" stroke="#555" stroke-width="0.9" />
<text x="663.20" y="249.30" font-size="6.9" text-anchor="start" font-weight="normal" font-style="normal" fill="#151515" >polyA</text>
<text x="439.40" y="266.80" font-size="6.9" text-anchor="start" font-weight="normal" font-style="normal" fill="#151515" >Pro-UBQ11</text>
<line x1="439.10" y1="268.00" x2="475.60" y2="268.00" stroke="#555" stroke-width="0.9" />
<rect x="475.60" y="261.60" width="35.30" height="12.00" fill="#dccba2" />
<text x="476.90" y="269.50" font-size="6.9" text-anchor="start" font-weight="normal" font-style="normal" fill="#151515" >Luciferase</text>
<rect x="510.90" y="261.60" width="71.90" height="12.00" fill="#4e2a86" />
<text x="514.60" y="269.50" font-size="6.6" text-anchor="start" font-weight="normal" font-style="italic" fill="#fff" >TRITD1Bv1G052450</text>
<line x1="582.80" y1="268.00" x2="632.90" y2="268.00" stroke="#555" stroke-width="0.9" />
<text x="585.40" y="266.80" font-size="6.9" text-anchor="start" font-weight="normal" font-style="normal" fill="#151515" >polyA</text>
<text x="606.30" y="266.80" font-size="6.9" text-anchor="start" font-weight="normal" font-style="normal" fill="#151515" >Pro-35S</text>
<rect x="632.90" y="260.70" width="28.00" height="12.20" fill="#ebdde7" />
<text x="636.30" y="269.80" font-size="6.9" text-anchor="start" font-weight="normal" font-style="normal" fill="#151515" >Renilla</text>
<line x1="660.90" y1="268.00" x2="685.00" y2="268.00" stroke="#555" stroke-width="0.9" />
<text x="663.20" y="266.80" font-size="6.9" text-anchor="start" font-weight="normal" font-style="normal" fill="#151515" >polyA</text>
<path d="M495.60,327.30 L495.63,330.43 L495.65,333.22 L495.71,337.91 L495.79,343.20 L495.87,347.00 L496.00,351.19 L496.14,353.80 L496.30,355.84 L496.51,357.66 L496.78,359.34 L497.11,361.01 L497.48,362.73 L498.02,364.91 L498.83,367.72 L499.90,370.78 L500.98,373.24 L502.05,375.26 L503.66,377.70 L505.28,379.67 L507.43,381.83 L509.58,383.66 L511.73,385.29 L514.41,387.14 L517.10,388.84 L519.79,390.43 L522.48,391.94 L527.85,394.70 L533.23,397.17 L538.60,399.39 L543.98,401.39 L549.35,403.19 L554.73,404.80 L560.10,406.25 L570.85,408.72 L581.60,410.71 L592.35,412.32 L603.10,413.62 L613.85,414.67 L624.60,415.52" fill="none" stroke="#58b548" stroke-width="1.3" stroke-linejoin="round"/>
<path d="M495.60,327.30 L495.63,358.41 L495.65,363.80 L495.71,369.70 L495.79,374.77 L495.87,378.11 L496.00,381.99 L496.14,384.77 L496.30,387.33 L496.51,389.94 L496.78,392.45 L497.11,394.79 L497.48,396.94 L498.02,399.34 L498.83,402.05 L499.90,404.71 L500.98,406.74 L502.05,408.38 L503.66,410.35 L505.28,411.93 L507.43,413.65 L509.58,415.06 L511.73,416.25 L514.41,417.53 L517.10,418.62 L519.79,419.58 L522.48,420.43 L527.85,421.90 L533.23,423.14 L538.60,424.22 L543.98,425.17 L549.35,426.03 L554.73,426.81 L560.10,427.54 L570.85,428.83 L581.60,429.99 L592.35,431.03 L603.10,431.99 L613.85,432.88 L624.60,433.71" fill="none" stroke="#4d2a8c" stroke-width="1.2" stroke-linejoin="round"/>
<line x1="495.60" y1="328.39" x2="495.60" y2="326.21" stroke="#58b548" stroke-width="1.2" />
<line x1="492.90" y1="328.39" x2="498.30" y2="328.39" stroke="#58b548" stroke-width="1.2" />
<line x1="492.90" y1="326.21" x2="498.30" y2="326.21" stroke="#58b548" stroke-width="1.2" />
<line x1="511.73" y1="388.28" x2="511.73" y2="380.66" stroke="#58b548" stroke-width="1.2" />
<line x1="509.03" y1="388.28" x2="514.43" y2="388.28" stroke="#58b548" stroke-width="1.2" />
<line x1="509.03" y1="380.66" x2="514.43" y2="380.66" stroke="#58b548" stroke-width="1.2" />
<line x1="527.85" y1="403.53" x2="527.85" y2="387.19" stroke="#58b548" stroke-width="1.2" />
<line x1="525.15" y1="403.53" x2="530.55" y2="403.53" stroke="#58b548" stroke-width="1.2" />
<line x1="525.15" y1="387.19" x2="530.55" y2="387.19" stroke="#58b548" stroke-width="1.2" />
<line x1="560.10" y1="408.97" x2="560.10" y2="405.71" stroke="#58b548" stroke-width="1.2" />
<line x1="557.40" y1="408.97" x2="562.80" y2="408.97" stroke="#58b548" stroke-width="1.2" />
<line x1="557.40" y1="405.71" x2="562.80" y2="405.71" stroke="#58b548" stroke-width="1.2" />
<line x1="624.60" y1="418.78" x2="624.60" y2="413.33" stroke="#58b548" stroke-width="1.2" />
<line x1="621.90" y1="418.78" x2="627.30" y2="418.78" stroke="#58b548" stroke-width="1.2" />
<line x1="621.90" y1="413.33" x2="627.30" y2="413.33" stroke="#58b548" stroke-width="1.2" />
<line x1="495.60" y1="333.83" x2="495.60" y2="319.68" stroke="#4d2a8c" stroke-width="1.2" />
<line x1="492.90" y1="333.83" x2="498.30" y2="333.83" stroke="#4d2a8c" stroke-width="1.2" />
<line x1="492.90" y1="319.68" x2="498.30" y2="319.68" stroke="#4d2a8c" stroke-width="1.2" />
<line x1="511.73" y1="424.22" x2="511.73" y2="407.89" stroke="#4d2a8c" stroke-width="1.2" />
<line x1="509.03" y1="424.22" x2="514.43" y2="424.22" stroke="#4d2a8c" stroke-width="1.2" />
<line x1="509.03" y1="407.89" x2="514.43" y2="407.89" stroke="#4d2a8c" stroke-width="1.2" />
<line x1="527.85" y1="423.13" x2="527.85" y2="422.04" stroke="#4d2a8c" stroke-width="1.2" />
<line x1="525.15" y1="423.13" x2="530.55" y2="423.13" stroke="#4d2a8c" stroke-width="1.2" />
<line x1="525.15" y1="422.04" x2="530.55" y2="422.04" stroke="#4d2a8c" stroke-width="1.2" />
<line x1="560.10" y1="428.58" x2="560.10" y2="426.40" stroke="#4d2a8c" stroke-width="1.2" />
<line x1="557.40" y1="428.58" x2="562.80" y2="428.58" stroke="#4d2a8c" stroke-width="1.2" />
<line x1="557.40" y1="426.40" x2="562.80" y2="426.40" stroke="#4d2a8c" stroke-width="1.2" />
<line x1="624.60" y1="434.57" x2="624.60" y2="433.48" stroke="#4d2a8c" stroke-width="1.2" />
<line x1="621.90" y1="434.57" x2="627.30" y2="434.57" stroke="#4d2a8c" stroke-width="1.2" />
<line x1="621.90" y1="433.48" x2="627.30" y2="433.48" stroke="#4d2a8c" stroke-width="1.2" />
<line x1="486.70" y1="293.20" x2="486.70" y2="443.75" stroke="#111" stroke-width="1.3" />
<line x1="486.05" y1="443.10" x2="633.60" y2="443.10" stroke="#111" stroke-width="1.3" />
<line x1="483.00" y1="436.20" x2="486.70" y2="436.20" stroke="#111" stroke-width="1.2" />
<text x="480.30" y="439.80" font-size="10.4" text-anchor="end" font-weight="normal" font-style="normal" fill="#151515" >0.00</text>
<line x1="483.00" y1="408.97" x2="486.70" y2="408.97" stroke="#111" stroke-width="1.2" />
<text x="480.30" y="412.57" font-size="10.4" text-anchor="end" font-weight="normal" font-style="normal" fill="#151515" >0.25</text>
<line x1="483.00" y1="381.75" x2="486.70" y2="381.75" stroke="#111" stroke-width="1.2" />
<text x="480.30" y="385.35" font-size="10.4" text-anchor="end" font-weight="normal" font-style="normal" fill="#151515" >0.50</text>
<line x1="483.00" y1="354.52" x2="486.70" y2="354.52" stroke="#111" stroke-width="1.2" />
<text x="480.30" y="358.12" font-size="10.4" text-anchor="end" font-weight="normal" font-style="normal" fill="#151515" >0.75</text>
<line x1="483.00" y1="327.30" x2="486.70" y2="327.30" stroke="#111" stroke-width="1.2" />
<text x="480.30" y="330.90" font-size="10.4" text-anchor="end" font-weight="normal" font-style="normal" fill="#151515" >1.00</text>
<line x1="483.00" y1="300.07" x2="486.70" y2="300.07" stroke="#111" stroke-width="1.2" />
<text x="480.30" y="303.68" font-size="10.4" text-anchor="end" font-weight="normal" font-style="normal" fill="#151515" >1.25</text>
<line x1="495.60" y1="443.10" x2="495.60" y2="447.00" stroke="#111" stroke-width="1.2" />
<text x="494.40" y="456.60" font-size="10" text-anchor="middle" font-weight="normal" font-style="normal" fill="#151515" >0</text>
<line x1="511.73" y1="443.10" x2="511.73" y2="447.00" stroke="#111" stroke-width="1.2" />
<text x="513.60" y="456.60" font-size="10" text-anchor="middle" font-weight="normal" font-style="normal" fill="#151515" >30</text>
<line x1="527.85" y1="443.10" x2="527.85" y2="447.00" stroke="#111" stroke-width="1.2" />
<text x="529.20" y="456.60" font-size="10" text-anchor="middle" font-weight="normal" font-style="normal" fill="#151515" >60</text>
<line x1="560.10" y1="443.10" x2="560.10" y2="447.00" stroke="#111" stroke-width="1.2" />
<text x="560.60" y="456.60" font-size="10" text-anchor="middle" font-weight="normal" font-style="normal" fill="#151515" >120</text>
<line x1="624.60" y1="443.10" x2="624.60" y2="447.00" stroke="#111" stroke-width="1.2" />
<text x="626.00" y="456.60" font-size="10" text-anchor="middle" font-weight="normal" font-style="normal" fill="#151515" >240</text>
<text x="497.60" y="468.60" font-size="10.25" text-anchor="start" font-weight="normal" font-style="normal" fill="#151515" >Cordycepin incubation(min)</text>
<text transform="translate(456.1,406.90) rotate(-90)" font-size="10" fill="#151515">Relative abundance</text>
<line x1="490.10" y1="297.50" x2="503.80" y2="297.50" stroke="#58b548" stroke-width="1.4" />
<circle cx="496.80" cy="297.50" r="2.35" fill="#fff" stroke="#58b548" stroke-width="1.6"/>
<text x="509.20" y="300.00" font-size="10.3" text-anchor="start" font-weight="normal" font-style="italic" fill="#151515" >TRITD1Av1G039750</text>
<line x1="490.10" y1="309.30" x2="503.80" y2="309.30" stroke="#4d2a8c" stroke-width="1.4" />
<circle cx="496.80" cy="309.30" r="2.35" fill="#fff" stroke="#4d2a8c" stroke-width="1.6"/>
<text x="508.50" y="313.70" font-size="10.3" text-anchor="start" font-weight="normal" font-style="italic" fill="#151515" >TRITD1Bv1G052450</text>
<text x="523.60" y="370.10" font-size="11.8" fill="#151515"><tspan font-style="italic">p</tspan> = 2.53e-04</text>
<text x="419.00" y="504.20" font-size="13" text-anchor="start" font-weight="bold" font-style="normal" fill="#000" >e</text>
<text x="444.40" y="498.70" font-size="6.9" text-anchor="start" font-weight="normal" font-style="normal" fill="#151515" >Pro-UBQ11</text>
<line x1="444.20" y1="499.95" x2="480.60" y2="499.95" stroke="#555" stroke-width="0.9" />
<rect x="480.60" y="492.90" width="35.40" height="12.00" fill="#dccba2" />
<text x="481.90" y="500.80" font-size="6.9" text-anchor="start" font-weight="normal" font-style="normal" fill="#151515" >Luciferase</text>
<rect x="516.00" y="492.90" width="67.00" height="12.00" fill="#58b848" />
<text x="517.20" y="500.80" font-size="6.85" text-anchor="start" font-weight="normal" font-style="italic" fill="#fff" >TRITD4Av1G187460</text>
<line x1="583.00" y1="499.95" x2="632.30" y2="499.95" stroke="#555" stroke-width="0.9" />
<text x="584.80" y="498.70" font-size="6.9" text-anchor="start" font-weight="normal" font-style="normal" fill="#151515" >polyA</text>
<text x="605.60" y="498.70" font-size="6.9" text-anchor="start" font-weight="normal" font-style="normal" fill="#151515" >Pro-35S</text>
<rect x="632.30" y="492.80" width="27.50" height="12.10" fill="#ebdde7" />
<text x="635.70" y="501.60" font-size="6.9" text-anchor="start" font-weight="normal" font-style="normal" fill="#151515" >Renilla</text>
<line x1="659.80" y1="499.95" x2="685.00" y2="499.95" stroke="#555" stroke-width="0.9" />
<text x="662.30" y="498.70" font-size="6.9" text-anchor="start" font-weight="normal" font-style="normal" fill="#151515" >polyA</text>
<text x="444.40" y="516.60" font-size="6.9" text-anchor="start" font-weight="normal" font-style="normal" fill="#151515" >Pro-UBQ11</text>
<line x1="444.20" y1="517.85" x2="480.60" y2="517.85" stroke="#555" stroke-width="0.9" />
<rect x="480.60" y="510.80" width="35.40" height="12.00" fill="#dccba2" />
<text x="481.90" y="518.70" font-size="6.9" text-anchor="start" font-weight="normal" font-style="normal" fill="#151515" >Luciferase</text>
<rect x="516.00" y="510.80" width="67.00" height="12.00" fill="#4e2a86" />
<text x="517.20" y="518.70" font-size="6.85" text-anchor="start" font-weight="normal" font-style="italic" fill="#fff" >TRITD4Bv1G019060</text>
<line x1="583.00" y1="517.85" x2="632.30" y2="517.85" stroke="#555" stroke-width="0.9" />
<text x="584.80" y="516.60" font-size="6.9" text-anchor="start" font-weight="normal" font-style="normal" fill="#151515" >polyA</text>
<text x="602.40" y="516.60" font-size="6.9" text-anchor="start" font-weight="normal" font-style="normal" fill="#151515" >Pro-35S</text>
<rect x="632.30" y="510.70" width="27.50" height="12.10" fill="#ebdde7" />
<text x="635.70" y="519.50" font-size="6.9" text-anchor="start" font-weight="normal" font-style="normal" fill="#151515" >Renilla</text>
<line x1="659.80" y1="517.85" x2="685.00" y2="517.85" stroke="#555" stroke-width="0.9" />
<text x="662.30" y="516.60" font-size="6.9" text-anchor="start" font-weight="normal" font-style="normal" fill="#151515" >polyA</text>
<path d="M495.60,573.10 L495.63,580.66 L495.65,587.36 L495.71,598.57 L495.79,611.09 L495.87,619.90 L496.00,629.31 L496.14,634.82 L496.30,638.74 L496.51,641.80 L496.78,644.21 L497.11,646.34 L497.48,648.41 L498.02,650.90 L498.83,653.91 L499.90,656.89 L500.98,659.01 L502.05,660.54 L503.66,662.10 L505.28,663.09 L507.43,663.94 L509.58,664.49 L511.73,664.89 L514.41,665.30 L517.10,665.66 L519.79,665.98 L522.48,666.30 L527.85,666.89 L533.23,667.45 L538.60,667.98 L543.98,668.49 L549.35,668.96 L554.73,669.42 L560.10,669.85 L570.85,670.64 L581.60,671.36 L592.35,672.01 L603.10,672.59 L613.85,673.11 L624.60,673.58" fill="none" stroke="#58b548" stroke-width="1.0" stroke-linejoin="round"/>
<path d="M495.60,573.10 L495.63,576.72 L495.65,579.93 L495.71,585.30 L495.79,591.30 L495.87,595.53 L496.00,600.05 L496.14,602.72 L496.30,604.66 L496.51,606.22 L496.78,607.55 L497.11,608.83 L497.48,610.18 L498.02,612.01 L498.83,614.56 L499.90,617.65 L500.98,620.43 L502.05,622.93 L503.66,626.22 L505.28,629.05 L507.43,632.22 L509.58,634.84 L511.73,637.02 L514.41,639.27 L517.10,641.12 L519.79,642.66 L522.48,643.98 L527.85,646.15 L533.23,647.92 L538.60,649.45 L543.98,650.83 L549.35,652.12 L554.73,653.34 L560.10,654.51 L570.85,656.73 L581.60,658.82 L592.35,660.78 L603.10,662.64 L613.85,664.40 L624.60,666.05" fill="none" stroke="#4d2a8c" stroke-width="1.2" stroke-linejoin="round"/>
<line x1="495.60" y1="581.30" x2="495.60" y2="565.44" stroke="#58b548" stroke-width="1.2" />
<line x1="492.90" y1="581.30" x2="498.30" y2="581.30" stroke="#58b548" stroke-width="1.2" />
<line x1="492.90" y1="565.44" x2="498.30" y2="565.44" stroke="#58b548" stroke-width="1.2" />
<line x1="511.73" y1="666.09" x2="511.73" y2="663.90" stroke="#58b548" stroke-width="1.2" />
<line x1="509.03" y1="666.09" x2="514.43" y2="666.09" stroke="#58b548" stroke-width="1.2" />
<line x1="509.03" y1="663.90" x2="514.43" y2="663.90" stroke="#58b548" stroke-width="1.2" />
<line x1="527.85" y1="668.83" x2="527.85" y2="663.36" stroke="#58b548" stroke-width="1.2" />
<line x1="525.15" y1="668.83" x2="530.55" y2="668.83" stroke="#58b548" stroke-width="1.2" />
<line x1="525.15" y1="663.36" x2="530.55" y2="663.36" stroke="#58b548" stroke-width="1.2" />
<line x1="560.10" y1="670.47" x2="560.10" y2="668.83" stroke="#58b548" stroke-width="1.2" />
<line x1="557.40" y1="670.47" x2="562.80" y2="670.47" stroke="#58b548" stroke-width="1.2" />
<line x1="557.40" y1="668.83" x2="562.80" y2="668.83" stroke="#58b548" stroke-width="1.2" />
<line x1="624.60" y1="674.29" x2="624.60" y2="672.87" stroke="#58b548" stroke-width="1.2" />
<line x1="621.90" y1="674.29" x2="627.30" y2="674.29" stroke="#58b548" stroke-width="1.2" />
<line x1="621.90" y1="672.87" x2="627.30" y2="672.87" stroke="#58b548" stroke-width="1.2" />
<line x1="495.60" y1="576.38" x2="495.60" y2="569.82" stroke="#4d2a8c" stroke-width="1.2" />
<line x1="492.90" y1="576.38" x2="498.30" y2="576.38" stroke="#4d2a8c" stroke-width="1.2" />
<line x1="492.90" y1="569.82" x2="498.30" y2="569.82" stroke="#4d2a8c" stroke-width="1.2" />
<line x1="511.73" y1="639.83" x2="511.73" y2="631.63" stroke="#4d2a8c" stroke-width="1.2" />
<line x1="509.03" y1="639.83" x2="514.43" y2="639.83" stroke="#4d2a8c" stroke-width="1.2" />
<line x1="509.03" y1="631.63" x2="514.43" y2="631.63" stroke="#4d2a8c" stroke-width="1.2" />
<line x1="527.85" y1="647.49" x2="527.85" y2="643.66" stroke="#4d2a8c" stroke-width="1.2" />
<line x1="525.15" y1="647.49" x2="530.55" y2="647.49" stroke="#4d2a8c" stroke-width="1.2" />
<line x1="525.15" y1="643.66" x2="530.55" y2="643.66" stroke="#4d2a8c" stroke-width="1.2" />
<line x1="560.10" y1="654.93" x2="560.10" y2="653.51" stroke="#4d2a8c" stroke-width="1.2" />
<line x1="557.40" y1="654.93" x2="562.80" y2="654.93" stroke="#4d2a8c" stroke-width="1.2" />
<line x1="557.40" y1="653.51" x2="562.80" y2="653.51" stroke="#4d2a8c" stroke-width="1.2" />
<line x1="624.60" y1="667.40" x2="624.60" y2="664.45" stroke="#4d2a8c" stroke-width="1.2" />
<line x1="621.90" y1="667.40" x2="627.30" y2="667.40" stroke="#4d2a8c" stroke-width="1.2" />
<line x1="621.90" y1="664.45" x2="627.30" y2="664.45" stroke="#4d2a8c" stroke-width="1.2" />
<line x1="486.70" y1="539.40" x2="486.70" y2="689.95" stroke="#111" stroke-width="1.3" />
<line x1="486.05" y1="689.30" x2="633.60" y2="689.30" stroke="#111" stroke-width="1.3" />
<line x1="483.00" y1="682.50" x2="486.70" y2="682.50" stroke="#111" stroke-width="1.2" />
<text x="480.30" y="686.10" font-size="10.4" text-anchor="end" font-weight="normal" font-style="normal" fill="#151515" >0.00</text>
<line x1="483.00" y1="655.15" x2="486.70" y2="655.15" stroke="#111" stroke-width="1.2" />
<text x="480.30" y="658.75" font-size="10.4" text-anchor="end" font-weight="normal" font-style="normal" fill="#151515" >0.25</text>
<line x1="483.00" y1="627.80" x2="486.70" y2="627.80" stroke="#111" stroke-width="1.2" />
<text x="480.30" y="631.40" font-size="10.4" text-anchor="end" font-weight="normal" font-style="normal" fill="#151515" >0.50</text>
<line x1="483.00" y1="600.45" x2="486.70" y2="600.45" stroke="#111" stroke-width="1.2" />
<text x="480.30" y="604.05" font-size="10.4" text-anchor="end" font-weight="normal" font-style="normal" fill="#151515" >0.75</text>
<line x1="483.00" y1="573.10" x2="486.70" y2="573.10" stroke="#111" stroke-width="1.2" />
<text x="480.30" y="576.70" font-size="10.4" text-anchor="end" font-weight="normal" font-style="normal" fill="#151515" >1.00</text>
<line x1="483.00" y1="545.75" x2="486.70" y2="545.75" stroke="#111" stroke-width="1.2" />
<text x="480.30" y="549.35" font-size="10.4" text-anchor="end" font-weight="normal" font-style="normal" fill="#151515" >1.25</text>
<line x1="495.60" y1="689.30" x2="495.60" y2="693.20" stroke="#111" stroke-width="1.2" />
<text x="494.40" y="703.20" font-size="10" text-anchor="middle" font-weight="normal" font-style="normal" fill="#151515" >0</text>
<line x1="511.73" y1="689.30" x2="511.73" y2="693.20" stroke="#111" stroke-width="1.2" />
<text x="513.60" y="703.20" font-size="10" text-anchor="middle" font-weight="normal" font-style="normal" fill="#151515" >30</text>
<line x1="527.85" y1="689.30" x2="527.85" y2="693.20" stroke="#111" stroke-width="1.2" />
<text x="529.20" y="703.20" font-size="10" text-anchor="middle" font-weight="normal" font-style="normal" fill="#151515" >60</text>
<line x1="560.10" y1="689.30" x2="560.10" y2="693.20" stroke="#111" stroke-width="1.2" />
<text x="560.60" y="703.20" font-size="10" text-anchor="middle" font-weight="normal" font-style="normal" fill="#151515" >120</text>
<line x1="624.60" y1="689.30" x2="624.60" y2="693.20" stroke="#111" stroke-width="1.2" />
<text x="626.00" y="703.20" font-size="10" text-anchor="middle" font-weight="normal" font-style="normal" fill="#151515" >240</text>
<text x="497.60" y="716.60" font-size="10.25" text-anchor="start" font-weight="normal" font-style="normal" fill="#151515" >Cordycepin incubation(min)</text>
<text transform="translate(456.1,653.10) rotate(-90)" font-size="10" fill="#151515">Relative abundance</text>
<line x1="491.80" y1="542.40" x2="505.30" y2="542.40" stroke="#58b548" stroke-width="1.4" />
<circle cx="498.60" cy="542.40" r="2.35" fill="#fff" stroke="#58b548" stroke-width="1.6"/>
<text x="509.40" y="545.80" font-size="9.9" text-anchor="start" font-weight="normal" font-style="italic" fill="#151515" >TRITD4Av1G187460</text>
<line x1="491.80" y1="554.90" x2="505.30" y2="554.90" stroke="#4d2a8c" stroke-width="1.4" />
<circle cx="498.60" cy="554.90" r="2.35" fill="#fff" stroke="#4d2a8c" stroke-width="1.6"/>
<text x="509.00" y="558.10" font-size="9.9" text-anchor="start" font-weight="normal" font-style="italic" fill="#151515" >TRITD4Bv1G019060</text>
<text x="526.50" y="623.60" font-size="11.8" fill="#151515"><tspan font-style="italic">p</tspan> = 3.48e-04</text>
<text x="2.60" y="503.50" font-size="13" text-anchor="start" font-weight="bold" font-style="normal" fill="#000" >d</text>
<text x="36.90" y="506.70" font-size="10.4" text-anchor="start" font-weight="normal" font-style="italic" fill="#151515" >TRITD4Av1G187460</text>
<line x1="31.20" y1="511.70" x2="137.80" y2="511.70" stroke="#6b6b6b" stroke-width="1.4" />
<text x="36.90" y="524.30" font-size="10.4" text-anchor="start" font-weight="normal" font-style="italic" fill="#151515" >TRITD4Bv1G019060</text>
<rect x="261.00" y="508.10" width="27.70" height="13.60" fill="url(#gy)" />
<rect x="289.60" y="508.10" width="24.40" height="13.60" fill="url(#gg)" />
<rect x="314.70" y="508.10" width="24.50" height="13.60" fill="url(#go)" />
<rect x="340.20" y="508.10" width="28.80" height="13.60" fill="url(#gb)" />
<line x1="263.30" y1="508.10" x2="263.30" y2="511.40" stroke="#fff" stroke-width="0.9" />
<line x1="263.30" y1="518.40" x2="263.30" y2="521.70" stroke="#fff" stroke-width="0.9" />
<line x1="289.10" y1="508.10" x2="289.10" y2="511.40" stroke="#fff" stroke-width="0.9" />
<line x1="289.10" y1="518.40" x2="289.10" y2="521.70" stroke="#fff" stroke-width="0.9" />
<line x1="314.30" y1="508.10" x2="314.30" y2="511.40" stroke="#fff" stroke-width="0.9" />
<line x1="314.30" y1="518.40" x2="314.30" y2="521.70" stroke="#fff" stroke-width="0.9" />
<line x1="339.70" y1="508.10" x2="339.70" y2="511.40" stroke="#fff" stroke-width="0.9" />
<line x1="339.70" y1="518.40" x2="339.70" y2="521.70" stroke="#fff" stroke-width="0.9" />
<line x1="365.50" y1="508.10" x2="365.50" y2="511.40" stroke="#fff" stroke-width="0.9" />
<line x1="365.50" y1="518.40" x2="365.50" y2="521.70" stroke="#fff" stroke-width="0.9" />
<text x="262.40" y="504.60" font-size="9.2" text-anchor="middle" font-weight="normal" font-style="normal" fill="#151515" >0.2</text>
<text x="287.60" y="504.60" font-size="9.2" text-anchor="middle" font-weight="normal" font-style="normal" fill="#151515" >0.4</text>
<text x="313.30" y="504.60" font-size="9.2" text-anchor="middle" font-weight="normal" font-style="normal" fill="#151515" >0.6</text>
<text x="338.70" y="504.60" font-size="9.2" text-anchor="middle" font-weight="normal" font-style="normal" fill="#151515" >0.8</text>
<text x="364.50" y="504.60" font-size="9.2" text-anchor="middle" font-weight="normal" font-style="normal" fill="#151515" >1.0</text>
<text x="261.00" y="533.50" font-size="10.3" text-anchor="start" font-weight="normal" font-style="normal" fill="#151515" >Base-pairing probability</text>
<path d="M57.40,615.50 A84.60,84.60 0 0 1 226.60,615.50" fill="none" stroke="#9fc6e5" stroke-width="2.4" />
<path d="M78.50,615.50 A67.10,67.10 0 0 1 212.70,615.50" fill="none" stroke="#9fc6e5" stroke-width="8.399999999999999" />
<path d="M79.90,615.50 A65.70,65.70 0 0 1 211.30,615.50" fill="none" stroke="#fff" stroke-width="0.4" />
<path d="M77.10,615.50 A68.50,68.50 0 0 1 214.10,615.50" fill="none" stroke="#fff" stroke-width="0.4" />
<path d="M84.60,615.50 A61.40,61.40 0 0 1 207.40,615.50" fill="none" stroke="#f2c96e" stroke-width="2.8" />
<path d="M91.80,615.50 A53.60,53.60 0 0 1 199.00,615.50" fill="none" stroke="#f2c96e" stroke-width="2.8" />
<path d="M93.80,615.50 A51.20,51.20 0 0 1 196.20,615.50" fill="none" stroke="#9fc6e5" stroke-width="1.8" />
<path d="M35.55,615.50 A9.05,9.05 0 0 1 53.65,615.50" fill="none" stroke="#9fc6e5" stroke-width="2.0999999999999996" />
<path d="M38.50,615.50 A6.10,6.10 0 0 1 50.70,615.50" fill="none" stroke="#9fc6e5" stroke-width="1.7999999999999998" />
<path d="M41.15,615.50 A3.45,3.45 0 0 1 48.05,615.50" fill="none" stroke="#9fc6e5" stroke-width="1.6999999999999997" />
<path d="M35.55,615.50 A9.05,9.05 0 0 0 53.65,615.50" fill="none" stroke="#9fc6e5" stroke-width="2.0999999999999996" />
<path d="M38.50,615.50 A6.10,6.10 0 0 0 50.70,615.50" fill="none" stroke="#9fc6e5" stroke-width="1.7999999999999998" />
<path d="M41.15,615.50 A3.45,3.45 0 0 0 48.05,615.50" fill="none" stroke="#9fc6e5" stroke-width="1.6999999999999997" />
<path d="M61.20,615.50 A2.60,2.60 0 0 1 66.40,615.50" fill="none" stroke="#9fc6e5" stroke-width="1.4" />
<path d="M66.40,615.50 A2.40,2.40 0 0 1 71.20,615.50" fill="none" stroke="#9fc6e5" stroke-width="1.4" />
<path d="M98.55,615.50 A13.75,13.75 0 0 1 126.05,615.50" fill="none" stroke="#9fc6e5" stroke-width="7.899999999999999" />
<path d="M99.87,615.50 A12.43,12.43 0 0 1 124.73,615.50" fill="none" stroke="#fff" stroke-width="0.5" />
<path d="M97.23,615.50 A15.07,15.07 0 0 1 127.37,615.50" fill="none" stroke="#fff" stroke-width="0.5" />
<path d="M107.30,615.50 A4.40,4.40 0 0 1 116.10,615.50" fill="none" stroke="#9fc6e5" stroke-width="1.8" />
<path d="M116.80,615.50 A2.40,2.40 0 0 1 121.60,615.50" fill="none" stroke="#9fc6e5" stroke-width="1.5" />
<path d="M136.65,615.50 A13.95,13.95 0 0 1 164.55,615.50" fill="none" stroke="#9fc6e5" stroke-width="8.700000000000001" />
<path d="M138.82,615.50 A11.78,11.78 0 0 1 162.38,615.50" fill="none" stroke="#fff" stroke-width="0.4" />
<path d="M136.65,615.50 A13.95,13.95 0 0 1 164.55,615.50" fill="none" stroke="#fff" stroke-width="0.4" />
<path d="M134.47,615.50 A16.12,16.12 0 0 1 166.72,615.50" fill="none" stroke="#fff" stroke-width="0.4" />
<path d="M142.30,615.50 A8.10,8.10 0 0 1 158.50,615.50" fill="none" stroke="#f2c96e" stroke-width="1.4" />
<path d="M144.70,615.50 A5.70,5.70 0 0 1 156.10,615.50" fill="none" stroke="#f2c96e" stroke-width="1.0" />
<path d="M146.40,615.50 A2.20,2.20 0 0 1 150.80,615.50" fill="none" stroke="#9fc6e5" stroke-width="1.2" />
<path d="M157.00,615.50 A2.60,2.60 0 0 1 162.20,615.50" fill="none" stroke="#9fc6e5" stroke-width="1.4" />
<path d="M132.70,615.50 A3.70,3.70 0 0 1 140.10,615.50" fill="none" stroke="#9fc6e5" stroke-width="2.0" />
<path d="M132.70,615.50 A3.70,3.70 0 0 0 140.10,615.50" fill="none" stroke="#9fc6e5" stroke-width="2.0" />
<path d="M173.10,615.50 A5.20,5.20 0 0 1 183.50,615.50" fill="none" stroke="#9fc6e5" stroke-width="2.0" />
<path d="M173.10,615.50 A5.20,5.20 0 0 0 183.50,615.50" fill="none" stroke="#9fc6e5" stroke-width="2.0" />
<path d="M181.30,615.50 A5.60,5.60 0 0 1 192.50,615.50" fill="none" stroke="#9fc6e5" stroke-width="2.0" />
<path d="M181.30,615.50 A5.60,5.60 0 0 0 192.50,615.50" fill="none" stroke="#9fc6e5" stroke-width="2.0" />
<path d="M218.40,615.50 A4.30,4.30 0 0 1 227.00,615.50" fill="none" stroke="#9fc6e5" stroke-width="2.0" />
<path d="M218.40,615.50 A4.30,4.30 0 0 0 227.00,615.50" fill="none" stroke="#9fc6e5" stroke-width="2.0" />
<path d="M184.10,615.50 A2.80,2.80 0 0 1 189.70,615.50" fill="none" stroke="#9fc6e5" stroke-width="1.0" />
<path d="M184.10,615.50 A2.80,2.80 0 0 0 189.70,615.50" fill="none" stroke="#9fc6e5" stroke-width="1.0" />
<path d="M199.80,615.50 A2.40,2.40 0 0 1 204.60,615.50" fill="none" stroke="#9fc6e5" stroke-width="1.2" />
<path d="M232.05,615.50 A3.75,3.75 0 0 1 239.55,615.50" fill="none" stroke="#9fc6e5" stroke-width="4.5" />
<path d="M246.90,615.50 A2.80,2.80 0 0 1 252.50,615.50" fill="none" stroke="#9fc6e5" stroke-width="1.4" />
<path d="M239.55,615.50 A3.25,3.25 0 0 0 246.05,615.50" fill="none" stroke="#f2c96e" stroke-width="5.5" />
<path d="M57.40,615.50 A88.60,88.60 0 0 0 234.60,615.50" fill="none" stroke="#9fc6e5" stroke-width="2.0" />
<path d="M59.40,615.50 A86.60,86.60 0 0 0 232.60,615.50" fill="none" stroke="#f2c96e" stroke-width="2.0" />
<path d="M62.00,615.50 A78.40,78.40 0 0 0 218.80,615.50" fill="none" stroke="#f2c96e" stroke-width="1.6" />
<path d="M67.40,615.50 A69.30,69.30 0 0 0 206.00,615.50" fill="none" stroke="#9fc6e5" stroke-width="10.0" />
<path d="M69.07,615.50 A67.63,67.63 0 0 0 204.33,615.50" fill="none" stroke="#fff" stroke-width="0.35" />
<path d="M65.73,615.50 A70.97,70.97 0 0 0 207.67,615.50" fill="none" stroke="#fff" stroke-width="0.35" />
<path d="M73.90,615.50 A62.60,62.60 0 0 0 199.10,615.50" fill="none" stroke="#f2c96e" stroke-width="3.6" />
<path d="M81.10,615.50 A55.90,55.90 0 0 0 192.90,615.50" fill="none" stroke="#9fc6e5" stroke-width="9.799999999999997" />
<path d="M82.73,615.50 A54.27,54.27 0 0 0 191.27,615.50" fill="none" stroke="#fff" stroke-width="0.35" />
<path d="M79.47,615.50 A57.53,57.53 0 0 0 194.53,615.50" fill="none" stroke="#fff" stroke-width="0.35" />
<path d="M97.60,615.50 A35.70,35.70 0 0 0 169.00,615.50" fill="none" stroke="#9fc6e5" stroke-width="4.199999999999996" />
<path d="M97.60,615.50 A35.70,35.70 0 0 0 169.00,615.50" fill="none" stroke="#fff" stroke-width="0.5" />
<path d="M100.70,615.50 A32.70,32.70 0 0 0 166.10,615.50" fill="none" stroke="#f2c96e" stroke-width="1.4" />
<path d="M105.20,615.50 A21.30,21.30 0 0 0 147.80,615.50" fill="none" stroke="#9fc6e5" stroke-width="6.600000000000001" />
<path d="M106.30,615.50 A20.20,20.20 0 0 0 146.70,615.50" fill="none" stroke="#fff" stroke-width="0.5" />
<path d="M104.10,615.50 A22.40,22.40 0 0 0 148.90,615.50" fill="none" stroke="#fff" stroke-width="0.5" />
<path d="M108.60,615.50 A10.40,10.40 0 0 0 129.40,615.50" fill="none" stroke="#f2c96e" stroke-width="3.6" />
<path d="M112.70,615.50 A6.30,6.30 0 0 0 125.30,615.50" fill="none" stroke="#5cb85c" stroke-width="3.2" />
<path d="M116.65,615.50 A2.35,2.35 0 0 0 121.35,615.50" fill="none" stroke="#9fc6e5" stroke-width="3.7" />
<path d="M155.00,615.50 A4.60,4.60 0 0 0 164.20,615.50" fill="none" stroke="#9fc6e5" stroke-width="2.6" />
<line x1="34.40" y1="615.50" x2="254.00" y2="615.50" stroke="#555" stroke-width="1.1" />
<polygon points="253.0,612.90 260.6,615.50 253.0,618.10" fill="#111"/>
<rect x="277.5" y="624.7" width="119.0" height="96.5" fill="#fff" stroke="#939393" stroke-width="1"/>
<line x1="220.50" y1="615.60" x2="277.50" y2="721.00" stroke="#444" stroke-width="0.8" stroke-dasharray="2.6,1.9"/>
<line x1="236.50" y1="617.00" x2="277.50" y2="624.70" stroke="#444" stroke-width="0.8" stroke-dasharray="2.6,1.9"/>
<text x="282.30" y="637.00" font-size="10.2" text-anchor="start" font-weight="normal" font-style="normal" fill="#151515" >sRSM15</text>
<text x="288.60" y="674.10" font-size="10.3" text-anchor="start" font-weight="normal" font-style="normal" fill="#151515" >Stable motif</text>
<line x1="282.80" y1="679.60" x2="348.80" y2="679.60" stroke="#111" stroke-width="1.4" />
<path d="M290.60,679.60 A25.90,25.90 0 0 0 342.40,679.60" fill="none" stroke="#4a9ad6" stroke-width="1.4" />
<path d="M294.60,679.60 A21.90,21.90 0 0 0 338.40,679.60" fill="none" stroke="#4a9ad6" stroke-width="1.4" />
<path d="M298.60,679.60 A17.80,17.80 0 0 0 334.20,679.60" fill="none" stroke="#4a9ad6" stroke-width="1.4" />
<path d="M302.90,679.60 A13.30,13.30 0 0 0 329.50,679.60" fill="none" stroke="#4a9ad6" stroke-width="1.4" />
<line x1="359.40" y1="712.10" x2="359.40" y2="697.10" stroke="#3a3a3a" stroke-width="1.2" />
<line x1="359.40" y1="697.10" x2="359.40" y2="681.90" stroke="#3a3a3a" stroke-width="1.2" />
<line x1="359.40" y1="681.90" x2="359.40" y2="666.30" stroke="#3a3a3a" stroke-width="1.2" />
<line x1="359.40" y1="666.30" x2="352.70" y2="654.60" stroke="#3a3a3a" stroke-width="1.2" />
<line x1="352.70" y1="654.60" x2="354.50" y2="642.50" stroke="#3a3a3a" stroke-width="1.2" />
<line x1="354.50" y1="642.50" x2="364.20" y2="633.40" stroke="#3a3a3a" stroke-width="1.2" />
<line x1="364.20" y1="633.40" x2="376.30" y2="633.10" stroke="#3a3a3a" stroke-width="1.2" />
<line x1="376.30" y1="633.10" x2="386.00" y2="641.40" stroke="#3a3a3a" stroke-width="1.2" />
<line x1="386.00" y1="641.40" x2="388.20" y2="654.60" stroke="#3a3a3a" stroke-width="1.2" />
<line x1="388.20" y1="654.60" x2="382.30" y2="666.30" stroke="#3a3a3a" stroke-width="1.2" />
<line x1="382.30" y1="666.30" x2="382.30" y2="681.90" stroke="#3a3a3a" stroke-width="1.2" />
<line x1="382.30" y1="681.90" x2="382.30" y2="697.10" stroke="#3a3a3a" stroke-width="1.2" />
<line x1="382.30" y1="697.10" x2="382.30" y2="712.10" stroke="#3a3a3a" stroke-width="1.2" />
<line x1="359.40" y1="712.10" x2="382.30" y2="712.10" stroke="#3a3a3a" stroke-width="1.2" />
<line x1="359.40" y1="697.10" x2="382.30" y2="697.10" stroke="#3a3a3a" stroke-width="1.2" />
<line x1="359.40" y1="681.90" x2="382.30" y2="681.90" stroke="#3a3a3a" stroke-width="1.2" />
<line x1="359.40" y1="666.30" x2="382.30" y2="666.30" stroke="#3a3a3a" stroke-width="1.2" />
<circle cx="359.40" cy="712.10" r="5.10" fill="#64a2e2" />
<text x="359.40" y="715.35" font-size="9.0" text-anchor="middle" font-weight="normal" font-style="normal" fill="#000" >U</text>
<circle cx="359.40" cy="697.10" r="5.10" fill="#64a2e2" />
<text x="359.40" y="700.35" font-size="9.0" text-anchor="middle" font-weight="normal" font-style="normal" fill="#000" >C</text>
<circle cx="359.40" cy="681.90" r="5.10" fill="#64a2e2" />
<text x="359.40" y="685.15" font-size="9.0" text-anchor="middle" font-weight="normal" font-style="normal" fill="#000" >U</text>
<circle cx="359.40" cy="666.30" r="5.10" fill="#64a2e2" />
<text x="359.40" y="669.55" font-size="9.0" text-anchor="middle" font-weight="normal" font-style="normal" fill="#000" >A</text>
<circle cx="352.70" cy="654.60" r="5.10" fill="#e4f0c4" />
<text x="352.70" y="657.85" font-size="9.0" text-anchor="middle" font-weight="normal" font-style="normal" fill="#000" >A</text>
<circle cx="354.50" cy="642.50" r="5.10" fill="#e4f0c4" />
<text x="354.50" y="645.75" font-size="9.0" text-anchor="middle" font-weight="normal" font-style="normal" fill="#000" >U</text>
<circle cx="364.20" cy="633.40" r="5.10" fill="#e4f0c4" />
<text x="364.20" y="636.65" font-size="9.0" text-anchor="middle" font-weight="normal" font-style="normal" fill="#000" >U</text>
<circle cx="376.30" cy="633.10" r="5.10" fill="#e4f0c4" />
<text x="376.30" y="636.35" font-size="9.0" text-anchor="middle" font-weight="normal" font-style="normal" fill="#000" >G</text>
<circle cx="386.00" cy="641.40" r="5.10" fill="#e4f0c4" />
<text x="386.00" y="644.65" font-size="9.0" text-anchor="middle" font-weight="normal" font-style="normal" fill="#000" >G</text>
<circle cx="388.20" cy="654.60" r="5.10" fill="#e4f0c4" />
<text x="388.20" y="657.85" font-size="9.0" text-anchor="middle" font-weight="normal" font-style="normal" fill="#000" >G</text>
<circle cx="382.30" cy="666.30" r="5.10" fill="#64a2e2" />
<text x="382.30" y="669.55" font-size="9.0" text-anchor="middle" font-weight="normal" font-style="normal" fill="#000" >U</text>
<circle cx="382.30" cy="681.90" r="5.10" fill="#64a2e2" />
<text x="382.30" y="685.15" font-size="9.0" text-anchor="middle" font-weight="normal" font-style="normal" fill="#000" >G</text>
<circle cx="382.30" cy="697.10" r="5.10" fill="#64a2e2" />
<text x="382.30" y="700.35" font-size="9.0" text-anchor="middle" font-weight="normal" font-style="normal" fill="#000" >G</text>
<circle cx="382.30" cy="712.10" r="5.10" fill="#64a2e2" />
<text x="382.30" y="715.35" font-size="9.0" text-anchor="middle" font-weight="normal" font-style="normal" fill="#000" >A</text>
</svg>
</body></html>
